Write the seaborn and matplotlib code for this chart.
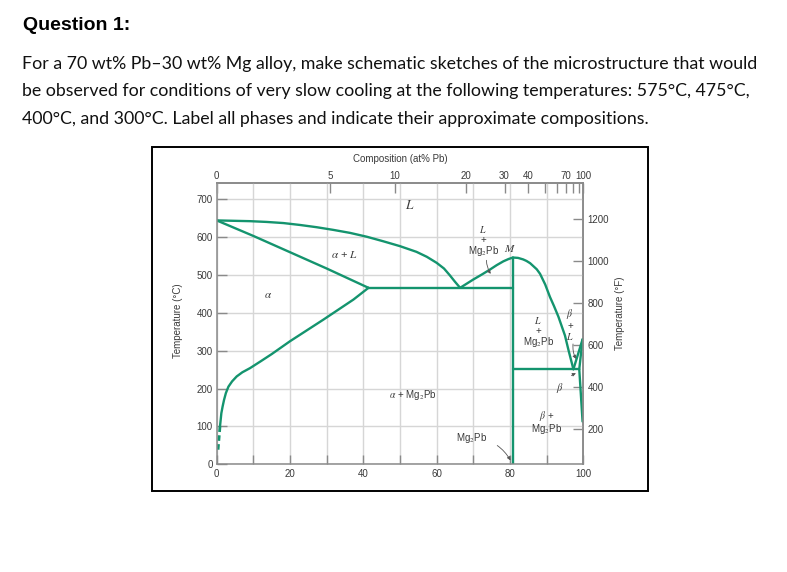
import numpy as np
import matplotlib
matplotlib.use('Agg')
import matplotlib.pyplot as plt
import seaborn as sns
from matplotlib.patches import Rectangle
from matplotlib.ticker import FixedLocator, FixedFormatter

# Mg-Pb phase diagram, boundaries (wt% Pb, deg C)
liq_left_x = [0, 4.5, 9.1, 13.6, 18.2, 22.7, 27.3, 31.8, 36.4, 40.9, 45.4, 50.0, 54.5,
              57.3, 60.0, 62.0, 63.6, 65.0, 66.4]
liq_left_t = [644, 643, 642, 640, 637, 632, 626, 619, 611, 601, 589, 576, 561,
              548, 532, 517, 499, 482, 466]
sol_alpha_x = [0, 10, 20, 30, 41.4]
sol_alpha_t = [644, 603, 560, 517, 466]
solvus_alpha_x = [41.4, 37.3, 29.1, 20.0, 15.0, 12.0, 9.1, 7.0, 5.45, 4.2, 3.2, 2.5,
                  2.0, 1.6, 1.27, 0.9]
solvus_alpha_t = [466, 435, 382, 325, 291, 272, 254, 243, 232, 219, 205, 188,
                  170, 152, 135, 100]
solvus_dash_x = [0.9, 0.6, 0.3]
solvus_dash_t = [100, 65, 30]
liq_mid_x = [66.4, 68.2, 70.0, 72.3, 74.5, 76.4, 78.2, 79.6, 80.8]
liq_mid_t = [466, 477, 488, 501, 514, 526, 536, 542, 546]
liq_right_x = [80.8, 82.2, 83.6, 84.5, 85.5, 86.4, 87.3, 88.2, 89.6, 90.9, 92.0, 93.2,
               95.0, 96.0, 97.3]
liq_right_t = [546, 545, 541, 537, 531, 523, 515, 503, 475, 442, 418, 390,
               340, 300, 251]
eut1_x = [41.4, 80.8]
eut1_t = [466, 466]
eut2_x = [80.8, 98.9]
eut2_t = [251, 251]
mg2pb_x = [80.8, 80.8]
mg2pb_t = [0, 546]
liq_pb_x = [97.3, 99.8]
liq_pb_t = [251, 330]
sol_pb_x = [98.9, 99.8]
sol_pb_t = [251, 330]
solvus_beta_x = [98.9, 99.8]
solvus_beta_t = [251, 113]

# axis ticks
wt_ticks = [0, 20, 40, 60, 80, 100]
c_ticks = [0, 100, 200, 300, 400, 500, 600, 700]
f_ticks = [200, 400, 600, 800, 1000, 1200]
at_ticks = [0, 5, 10, 20, 30, 40, 50, 60, 70, 80, 90, 100]
at_labels = ['0', '5', '10', '20', '30', '40', '', '', '70', '', '', '100']

question_title = 'Question 1:'
question_lines = [
    'For a 70 wt% Pb\u201330 wt% Mg alloy, make schematic sketches of the microstructure that would',
    'be observed for conditions of very slow cooling at the following temperatures: 575\u00b0C, 475\u00b0C,',
    '400\u00b0C, and 300\u00b0C. Label all phases and indicate their approximate compositions.',
]

GREEN = '#14946e'
GRID = '#d6d6d6'
AXC = '#8a8a8a'
TXT = '#3a3a3a'

sns.set_theme(style='white')
plt.rcParams['mathtext.fontset'] = 'stix'
plt.rcParams['font.family'] = ['Liberation Sans', 'DejaVu Sans']

W, H = 787, 572
fig = plt.figure(figsize=(W / 100, H / 100), dpi=100)

# question text
fig.text(23 / W, 1 - 30 / H, question_title, fontsize=14, fontweight='bold',
         family='Liberation Sans', va='baseline', color='black')
for i, line in enumerate(question_lines):
    fig.text(22 / W, 1 - (69 + 27.3 * i) / H, line, fontsize=12.75, family='Lato',
             va='baseline', color='#111111')

# frame around the figure
fig.add_artist(Rectangle((152 / W, 1 - 491 / H), (648 - 152) / W, (491 - 147) / H,
                         transform=fig.transFigure, fill=False, lw=1.4, ec='black'))

ax = fig.add_axes([216.7 / W, 1 - 464.3 / H, (583.3 - 216.7) / W, (464.3 - 183.3) / H])
ax.set_xlim(0, 100)
ax.set_ylim(0, 742)

curves = [
    (liq_left_x, liq_left_t), (sol_alpha_x, sol_alpha_t), (solvus_alpha_x, solvus_alpha_t),
    (liq_mid_x, liq_mid_t), (liq_right_x, liq_right_t), (eut1_x, eut1_t), (eut2_x, eut2_t),
    (mg2pb_x, mg2pb_t), (liq_pb_x, liq_pb_t), (sol_pb_x, sol_pb_t), (solvus_beta_x, solvus_beta_t),
]
for xs, ts in curves:
    sns.lineplot(x=xs, y=ts, ax=ax, color=GREEN, lw=1.7, sort=False, estimator=None)
sns.lineplot(x=solvus_dash_x, y=solvus_dash_t, ax=ax, color=GREEN, lw=2.0, sort=False,
             estimator=None, linestyle=(0, (2, 1.2)))

# grid and ticks
ax.xaxis.set_major_locator(FixedLocator(wt_ticks))
ax.xaxis.set_minor_locator(FixedLocator([10, 30, 50, 70, 90]))
ax.yaxis.set_major_locator(FixedLocator(c_ticks))
ax.grid(which='both', color=GRID, lw=1.0)
ax.set_axisbelow(True)
ax.tick_params(which='both', direction='in', color=AXC, labelcolor=TXT, labelsize=7)
ax.tick_params(axis='x', which='both', length=6.5, width=1, pad=3.5, bottom=True)
ax.tick_params(axis='y', length=7, width=1, pad=3, left=True)
for s in ax.spines.values():
    s.set_color(AXC)
    s.set_linewidth(1.1)

# top axis: atomic percent
def wt_to_at(w):
    w = np.asarray(w, dtype=float)
    return 100 * (w / 207.2) / (w / 207.2 + (100 - w) / 24.305 + 1e-12)

def at_to_wt(a):
    a = np.asarray(a, dtype=float)
    return 100 * (a * 207.2) / (a * 207.2 + (100 - a) * 24.305 + 1e-12)

top = ax.secondary_xaxis('top', functions=(wt_to_at, at_to_wt))
top.xaxis.set_major_locator(FixedLocator(at_ticks))
top.xaxis.set_major_formatter(FixedFormatter(at_labels))
top.tick_params(direction='in', length=7, width=1, color=AXC, labelcolor=TXT, labelsize=7, pad=2)
top.spines['top'].set_color(AXC)
top.set_xlabel('Composition (at% Pb)', fontsize=7, color=TXT, labelpad=6)

# right axis: Fahrenheit
right = ax.secondary_yaxis('right', functions=(lambda c: c * 1.8 + 32, lambda f: (f - 32) / 1.8))
right.yaxis.set_major_locator(FixedLocator(f_ticks))
right.tick_params(direction='in', length=7, width=1, color=AXC, labelcolor=TXT, labelsize=7, pad=3)
right.spines['right'].set_color(AXC)

fig.text(178 / W, 1 - 321 / H, 'Temperature (\u00b0C)', rotation=90, fontsize=7, color=TXT,
         ha='center', va='center')
fig.text(620 / W, 1 - 313 / H, 'Temperature (\u00b0F)', rotation=90, fontsize=7, color=TXT,
         ha='center', va='center')

# phase labels
lab = dict(color=TXT, ha='center', va='center')
stack = dict(lab, multialignment='center', linespacing=0.95)
ax.text(52.7, 684, '$L$', fontsize=9.5, **lab)
ax.text(35, 554, r'$\alpha$ + $L$', fontsize=8, **lab)
ax.text(14, 448, r'$\alpha$', fontsize=8, **lab)
ax.text(72.7, 589, '$L$\n+\nMg$_2$Pb', fontsize=7, **stack)
ax.text(80.0, 571, '$M$', fontsize=8, **lab)
ax.text(53.6, 182, r'$\alpha$ + Mg$_2$Pb', fontsize=7, **lab)
ax.text(87.7, 349, '$L$\n+\nMg$_2$Pb', fontsize=7, **stack)
ax.text(96.4, 369, '$\\beta$\n+\n$L$', fontsize=7, **stack)
ax.text(90.0, 110, '$\\beta$ +\nMg$_2$Pb', fontsize=7, **stack)

arrow = dict(arrowstyle='-|>', color='#555555', lw=0.6, mutation_scale=5)
ax.annotate('', xy=(75.2, 497), xytext=(73.6, 546),
            arrowprops=dict(arrow, connectionstyle='arc3,rad=0.2'))
ax.annotate('Mg$_2$Pb', xy=(80.5, 4), xytext=(69.4, 70), fontsize=7, **lab,
            arrowprops=dict(arrow, connectionstyle='arc3,rad=-0.3', shrinkA=6))
ax.annotate('', xy=(98.4, 272), xytext=(97.3, 325),
            arrowprops=dict(arrow, connectionstyle='arc3,rad=0.2'))
ax.annotate(r'$\beta$', xy=(98.7, 243), xytext=(93.6, 201), fontsize=7.5, **lab,
            arrowprops=dict(arrow, connectionstyle='arc3,rad=-0.2', shrinkA=4))

fig.savefig('out.png', dpi=100)
